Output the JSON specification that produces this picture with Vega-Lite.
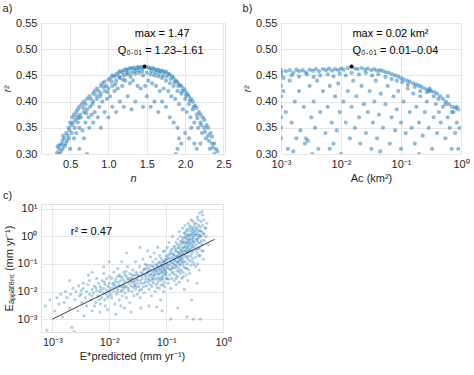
{
"$schema": "https://vega.github.io/schema/vega-lite/v6.json",
"padding": {"left": 2, "top": 2, "right": 5, "bottom": 2},
"config": {
 "font": "Liberation Sans",
 "view": {"stroke": "#dedede", "strokeWidth": 1},
 "axis": {"grid": true, "gridColor": "#e6e6e6", "domain": false, "ticks": false, "labelFontSize": 11, "labelColor": "#262626", "titleFontSize": 11, "titleFontWeight": "normal", "titleColor": "#262626", "labelPadding": 4, "labelFlush": false, "labelOverlap": false, "titlePadding": 3},
 "title": {"fontSize": 11, "fontWeight": "normal", "anchor": "start", "frame": "bounds", "offset": 3, "color": "#262626"}
},
"datasets": {
 "a": [
{"n":0.33,"r":0.302},{"n":0.35,"r":0.31},{"n":0.37,"r":0.318},{"n":0.38,"r":0.305},{"n":0.40,"r":0.325},{"n":0.42,"r":0.33},{"n":0.43,"r":0.315},{"n":0.45,"r":0.34},{"n":0.47,"r":0.335},{"n":0.48,"r":0.35},{"n":0.50,"r":0.36},{"n":0.52,"r":0.355},{"n":0.53,"r":0.37},{"n":0.55,"r":0.375},{"n":0.57,"r":0.365},{"n":0.58,"r":0.38},{"n":0.60,"r":0.385},{"n":0.62,"r":0.39},{"n":0.63,"r":0.375},{"n":0.65,"r":0.395},{"n":0.68,"r":0.40},{"n":0.70,"r":0.395},{"n":0.72,"r":0.405},{"n":0.75,"r":0.41},{"n":0.77,"r":0.405},{"n":0.80,"r":0.415},{"n":0.82,"r":0.42},{"n":0.85,"r":0.425},{"n":0.87,"r":0.42},{"n":0.90,"r":0.43},{"n":0.92,"r":0.435},{"n":0.95,"r":0.438},{"n":0.97,"r":0.43},{"n":1.00,"r":0.442},{"n":1.03,"r":0.445},{"n":1.05,"r":0.45},{"n":1.08,"r":0.448},{"n":1.10,"r":0.452},{"n":1.13,"r":0.455},{"n":1.15,"r":0.458},{"n":1.18,"r":0.456},{"n":1.20,"r":0.46},{"n":1.23,"r":0.462},{"n":1.25,"r":0.46},{"n":1.28,"r":0.464},{"n":1.30,"r":0.463},{"n":1.33,"r":0.465},{"n":1.35,"r":0.462},{"n":1.38,"r":0.466},{"n":1.40,"r":0.465},{"n":1.43,"r":0.466},{"n":1.45,"r":0.464},{"n":1.50,"r":0.466},{"n":1.53,"r":0.465},{"n":1.55,"r":0.463},{"n":1.58,"r":0.464},{"n":1.60,"r":0.462},{"n":1.63,"r":0.46},{"n":1.65,"r":0.461},{"n":1.68,"r":0.458},{"n":1.70,"r":0.459},{"n":1.73,"r":0.456},{"n":1.75,"r":0.457},{"n":1.78,"r":0.453},{"n":1.80,"r":0.452},{"n":1.83,"r":0.448},{"n":1.85,"r":0.445},{"n":1.88,"r":0.44},{"n":1.90,"r":0.437},{"n":1.93,"r":0.432},{"n":1.95,"r":0.43},{"n":1.98,"r":0.425},{"n":2.00,"r":0.42},{"n":2.03,"r":0.415},{"n":2.05,"r":0.41},{"n":2.08,"r":0.405},{"n":2.10,"r":0.40},{"n":2.13,"r":0.393},{"n":2.15,"r":0.388},{"n":2.18,"r":0.38},{"n":2.20,"r":0.375},{"n":2.23,"r":0.37},{"n":2.25,"r":0.365},{"n":2.28,"r":0.355},{"n":2.30,"r":0.35},{"n":2.33,"r":0.34},{"n":2.35,"r":0.333},{"n":2.38,"r":0.32},{"n":2.40,"r":0.31},{"n":2.42,"r":0.305},
{"n":0.36,"r":0.30},{"n":0.40,"r":0.31},{"n":0.44,"r":0.32},{"n":0.48,"r":0.33},{"n":0.52,"r":0.34},{"n":0.56,"r":0.35},{"n":0.60,"r":0.36},{"n":0.64,"r":0.37},{"n":0.68,"r":0.38},{"n":0.72,"r":0.385},{"n":0.76,"r":0.39},{"n":0.80,"r":0.40},{"n":0.85,"r":0.405},{"n":0.90,"r":0.415},{"n":0.95,"r":0.42},{"n":1.00,"r":0.425},{"n":1.05,"r":0.43},{"n":1.10,"r":0.44},{"n":1.15,"r":0.445},{"n":1.20,"r":0.45},{"n":1.25,"r":0.452},{"n":1.30,"r":0.455},{"n":1.35,"r":0.453},{"n":1.40,"r":0.455},{"n":1.45,"r":0.45},{"n":1.50,"r":0.455},{"n":1.55,"r":0.452},{"n":1.60,"r":0.45},{"n":1.65,"r":0.448},{"n":1.70,"r":0.445},{"n":1.75,"r":0.44},{"n":1.80,"r":0.435},{"n":1.85,"r":0.43},{"n":1.90,"r":0.42},{"n":1.95,"r":0.415},{"n":2.00,"r":0.405},{"n":2.05,"r":0.395},{"n":2.10,"r":0.385},{"n":2.15,"r":0.375},{"n":2.20,"r":0.36},{"n":2.25,"r":0.35},{"n":2.30,"r":0.335},{"n":2.35,"r":0.32},{"n":2.38,"r":0.30},
{"n":0.50,"r":0.31},{"n":0.55,"r":0.33},{"n":0.58,"r":0.34},{"n":0.62,"r":0.35},{"n":0.66,"r":0.345},{"n":0.70,"r":0.36},{"n":0.74,"r":0.37},{"n":0.78,"r":0.375},{"n":0.82,"r":0.38},{"n":0.88,"r":0.39},{"n":0.92,"r":0.40},{"n":0.98,"r":0.405},{"n":1.02,"r":0.41},{"n":1.08,"r":0.42},{"n":1.12,"r":0.425},{"n":1.18,"r":0.43},{"n":1.22,"r":0.44},{"n":1.28,"r":0.435},{"n":1.32,"r":0.44},{"n":1.38,"r":0.43},{"n":1.42,"r":0.425},{"n":1.48,"r":0.43},{"n":1.52,"r":0.44},{"n":1.57,"r":0.435},{"n":1.62,"r":0.43},{"n":1.67,"r":0.42},{"n":1.72,"r":0.425},{"n":1.78,"r":0.42},{"n":1.82,"r":0.41},{"n":1.87,"r":0.405},{"n":1.92,"r":0.395},{"n":1.97,"r":0.385},{"n":2.02,"r":0.38},{"n":2.07,"r":0.37},{"n":2.12,"r":0.36},{"n":2.17,"r":0.35},{"n":2.22,"r":0.34},{"n":2.27,"r":0.33},{"n":2.32,"r":0.31},
{"n":0.62,"r":0.31},{"n":0.68,"r":0.33},{"n":0.75,"r":0.35},{"n":0.80,"r":0.36},{"n":0.86,"r":0.37},{"n":0.95,"r":0.38},{"n":1.05,"r":0.39},{"n":1.15,"r":0.40},{"n":1.25,"r":0.41},{"n":1.35,"r":0.40},{"n":1.45,"r":0.39},{"n":1.50,"r":0.41},{"n":1.55,"r":0.39},{"n":1.60,"r":0.40},{"n":1.65,"r":0.38},{"n":1.70,"r":0.40},{"n":1.75,"r":0.39},{"n":1.80,"r":0.37},{"n":1.85,"r":0.36},{"n":1.90,"r":0.35},{"n":1.92,"r":0.33},{"n":1.95,"r":0.32},{"n":2.00,"r":0.34},{"n":2.05,"r":0.33},{"n":2.08,"r":0.35},{"n":2.12,"r":0.32},{"n":2.15,"r":0.31},{"n":2.20,"r":0.32},{"n":0.72,"r":0.30},{"n":1.90,"r":0.31},{"n":1.88,"r":0.30},{"n":0.90,"r":0.35},{"n":1.00,"r":0.37},{"n":1.10,"r":0.38},{"n":1.30,"r":0.385},{"n":1.20,"r":0.39},
{"n":0.34,"r":0.315},{"n":0.39,"r":0.318},{"n":0.41,"r":0.335},{"n":0.46,"r":0.325},{"n":0.49,"r":0.345},{"n":0.54,"r":0.36},{"n":0.59,"r":0.372},{"n":0.61,"r":0.368},{"n":0.67,"r":0.388},{"n":0.71,"r":0.378},{"n":0.79,"r":0.395},{"n":0.84,"r":0.412},{"n":0.89,"r":0.41},{"n":0.94,"r":0.428},{"n":0.99,"r":0.418},{"n":1.04,"r":0.438},{"n":1.09,"r":0.433},{"n":1.14,"r":0.447},{"n":1.19,"r":0.442},{"n":1.24,"r":0.455},{"n":1.29,"r":0.447},{"n":1.34,"r":0.458},{"n":1.39,"r":0.46},{"n":1.44,"r":0.458},{"n":1.56,"r":0.458},{"n":1.61,"r":0.456},{"n":1.66,"r":0.454},{"n":1.71,"r":0.45},{"n":1.76,"r":0.448},{"n":1.81,"r":0.443},{"n":1.86,"r":0.437},{"n":1.91,"r":0.43},{"n":1.96,"r":0.42},{"n":2.01,"r":0.412},{"n":2.06,"r":0.402},{"n":2.11,"r":0.39},{"n":2.16,"r":0.368},{"n":2.21,"r":0.355},{"n":2.26,"r":0.342},{"n":2.31,"r":0.325},{"n":2.36,"r":0.312}
 ],
 "amax": [{"n":1.47,"r":0.467}],
 "atext": [{"n":1.70,"r":0.529,"t":"max = 1.47"},{"n":1.68,"r":0.497,"t":"Q₀.₀₁ = 1.23–1.61"}],
 "b": [
{"A":0.001,"r":0.46},{"A":0.001,"r":0.455},{"A":0.001,"r":0.45},{"A":0.0012,"r":0.458},{"A":0.0014,"r":0.46},{"A":0.0016,"r":0.455},{"A":0.0018,"r":0.461},{"A":0.002,"r":0.458},{"A":0.0023,"r":0.46},{"A":0.0026,"r":0.456},{"A":0.003,"r":0.461},{"A":0.0034,"r":0.459},{"A":0.0038,"r":0.462},{"A":0.0043,"r":0.458},{"A":0.005,"r":0.462},{"A":0.0056,"r":0.46},{"A":0.0063,"r":0.463},{"A":0.0071,"r":0.459},{"A":0.008,"r":0.462},{"A":0.009,"r":0.46},{"A":0.01,"r":0.463},{"A":0.011,"r":0.461},{"A":0.013,"r":0.464},{"A":0.017,"r":0.463},{"A":0.019,"r":0.462},{"A":0.022,"r":0.464},{"A":0.025,"r":0.461},{"A":0.028,"r":0.463},{"A":0.032,"r":0.46},{"A":0.036,"r":0.462},{"A":0.04,"r":0.459},{"A":0.045,"r":0.46},{"A":0.05,"r":0.458},{"A":0.056,"r":0.456},{"A":0.063,"r":0.455},{"A":0.071,"r":0.452},{"A":0.08,"r":0.45},{"A":0.09,"r":0.448},{"A":0.1,"r":0.445},{"A":0.11,"r":0.443},{"A":0.125,"r":0.44},{"A":0.14,"r":0.438},{"A":0.16,"r":0.435},{"A":0.18,"r":0.433},{"A":0.2,"r":0.43},{"A":0.22,"r":0.428},{"A":0.25,"r":0.425},{"A":0.28,"r":0.422},{"A":0.32,"r":0.42},{"A":0.36,"r":0.418},{"A":0.4,"r":0.415},{"A":0.45,"r":0.41},{"A":0.5,"r":0.405},{"A":0.56,"r":0.40},{"A":0.63,"r":0.395},{"A":0.71,"r":0.39},{"A":0.8,"r":0.388},{"A":0.9,"r":0.385},
{"A":0.0011,"r":0.445},{"A":0.0015,"r":0.45},{"A":0.002,"r":0.448},{"A":0.0027,"r":0.452},{"A":0.0035,"r":0.447},{"A":0.0045,"r":0.45},{"A":0.006,"r":0.452},{"A":0.0075,"r":0.448},{"A":0.0095,"r":0.453},{"A":0.012,"r":0.45},{"A":0.015,"r":0.455},{"A":0.02,"r":0.452},{"A":0.026,"r":0.455},{"A":0.033,"r":0.45},{"A":0.042,"r":0.452},{"A":0.055,"r":0.447},{"A":0.07,"r":0.443},{"A":0.085,"r":0.44},{"A":0.105,"r":0.437},{"A":0.13,"r":0.432},{"A":0.17,"r":0.428},{"A":0.21,"r":0.42},{"A":0.27,"r":0.418},{"A":0.3,"r":0.425},{"A":0.35,"r":0.41},{"A":0.42,"r":0.405},{"A":0.55,"r":0.395},{"A":0.7,"r":0.38},{"A":0.85,"r":0.39},{"A":0.6,"r":0.41},
{"A":0.001,"r":0.43},{"A":0.001,"r":0.41},{"A":0.001,"r":0.39},{"A":0.001,"r":0.37},{"A":0.001,"r":0.35},{"A":0.001,"r":0.33},{"A":0.0011,"r":0.42},{"A":0.0012,"r":0.38},{"A":0.0013,"r":0.31},{"A":0.0014,"r":0.44},{"A":0.0015,"r":0.36},{"A":0.0017,"r":0.40},{"A":0.0018,"r":0.33},{"A":0.002,"r":0.42},{"A":0.0021,"r":0.345},{"A":0.0024,"r":0.39},{"A":0.0025,"r":0.32},{"A":0.0026,"r":0.33},{"A":0.0028,"r":0.325},{"A":0.003,"r":0.43},{"A":0.0032,"r":0.37},{"A":0.0035,"r":0.40},{"A":0.0037,"r":0.35},{"A":0.004,"r":0.44},{"A":0.0042,"r":0.31},{"A":0.0045,"r":0.38},{"A":0.005,"r":0.42},{"A":0.0055,"r":0.34},{"A":0.006,"r":0.39},{"A":0.0065,"r":0.43},{"A":0.007,"r":0.36},{"A":0.0075,"r":0.32},{"A":0.008,"r":0.41},{"A":0.0085,"r":0.345},{"A":0.009,"r":0.435},{"A":0.0095,"r":0.38},{"A":0.01,"r":0.30},{"A":0.011,"r":0.40},{"A":0.012,"r":0.36},{"A":0.013,"r":0.42},{"A":0.014,"r":0.33},{"A":0.015,"r":0.39},{"A":0.016,"r":0.44},{"A":0.017,"r":0.35},{"A":0.018,"r":0.41},{"A":0.02,"r":0.37},{"A":0.021,"r":0.32},{"A":0.022,"r":0.43},{"A":0.024,"r":0.395},{"A":0.026,"r":0.34},{"A":0.028,"r":0.38},{"A":0.03,"r":0.42},{"A":0.032,"r":0.31},{"A":0.034,"r":0.36},{"A":0.036,"r":0.40},{"A":0.038,"r":0.44},{"A":0.04,"r":0.33},{"A":0.043,"r":0.375},{"A":0.046,"r":0.415},{"A":0.05,"r":0.35},{"A":0.055,"r":0.395},{"A":0.06,"r":0.43},{"A":0.065,"r":0.32},{"A":0.07,"r":0.37},{"A":0.075,"r":0.41},{"A":0.08,"r":0.345},{"A":0.085,"r":0.385},{"A":0.09,"r":0.42},{"A":0.1,"r":0.31},{"A":0.1,"r":0.36},{"A":0.11,"r":0.40},{"A":0.12,"r":0.34},{"A":0.13,"r":0.425},{"A":0.14,"r":0.38},{"A":0.15,"r":0.35},{"A":0.16,"r":0.415},{"A":0.17,"r":0.32},{"A":0.18,"r":0.39},{"A":0.2,"r":0.36},{"A":0.21,"r":0.41},{"A":0.23,"r":0.335},{"A":0.25,"r":0.38},{"A":0.27,"r":0.40},{"A":0.29,"r":0.35},{"A":0.3,"r":0.42},{"A":0.33,"r":0.31},{"A":0.35,"r":0.37},{"A":0.38,"r":0.395},{"A":0.4,"r":0.34},{"A":0.43,"r":0.38},{"A":0.46,"r":0.36},{"A":0.5,"r":0.39},{"A":0.55,"r":0.33},{"A":0.6,"r":0.37},{"A":0.65,"r":0.35},{"A":0.7,"r":0.31},{"A":0.75,"r":0.38},{"A":0.8,"r":0.34},{"A":0.85,"r":0.36},{"A":0.9,"r":0.31},{"A":0.95,"r":0.35},{"A":0.0016,"r":0.305},{"A":0.0033,"r":0.30},{"A":0.0065,"r":0.31},{"A":0.045,"r":0.305},{"A":0.2,"r":0.30}
 ],
 "bmax": [{"A":0.015,"r":0.467}],
 "btext": [{"A":0.0155,"r":0.529,"t":"max = 0.02 km²"},{"A":0.0155,"r":0.497,"t":"Q₀.₀₁ = 0.01–0.04"}],
 "c": [
{"p":8e-4,"e":4e-4},{"p":7.5e-4,"e":3e-3},{"p":9e-4,"e":5e-3},{"p":1.1e-3,"e":2e-3},{"p":1.2e-3,"e":6e-3},{"p":1.3e-3,"e":3.5e-3},{"p":1.4e-3,"e":8e-3},{"p":1.5e-3,"e":1.2e-3},{"p":1.6e-3,"e":4e-3},{"p":1.7e-3,"e":1e-2},{"p":1.8e-3,"e":6e-3},{"p":2e-3,"e":2.5e-2},{"p":2e-3,"e":2.5e-3},{"p":2.1e-3,"e":8e-3},{"p":2.2e-3,"e":5e-4},{"p":2.4e-3,"e":3.5e-4},{"p":2.3e-3,"e":1.3e-2},{"p":2.5e-3,"e":5e-3},{"p":2.6e-3,"e":1e-2},{"p":2.8e-3,"e":2e-3},{"p":2.9e-3,"e":1.6e-2},{"p":3e-3,"e":7e-3},{"p":3.2e-3,"e":1.1e-2},{"p":3.3e-3,"e":4e-3},{"p":3.5e-3,"e":2e-2},{"p":3.6e-3,"e":1.3e-3},
{"p":3.2e-3,"e":8e-3},{"p":3.5e-3,"e":1.3e-2},{"p":3.8e-3,"e":6e-3},{"p":4e-3,"e":1e-2},{"p":4e-3,"e":3e-3},{"p":4.2e-3,"e":1.8e-2},{"p":4.5e-3,"e":8e-3},{"p":4.5e-3,"e":2.5e-2},{"p":4.8e-3,"e":5e-3},{"p":5e-3,"e":1.2e-2},{"p":5e-3,"e":2e-3},{"p":5.3e-3,"e":9e-3},{"p":5.5e-3,"e":1.6e-2},{"p":5.8e-3,"e":4e-3},{"p":6e-3,"e":1.1e-2},{"p":6e-3,"e":3e-2},{"p":6.3e-3,"e":7e-3},{"p":6.5e-3,"e":2e-2},{"p":6.8e-3,"e":1e-2},{"p":7e-3,"e":3.5e-3},{"p":7e-3,"e":1.5e-2},{"p":7.3e-3,"e":6e-3},{"p":7.5e-3,"e":2.5e-2},{"p":7.8e-3,"e":9e-3},{"p":8e-3,"e":1.3e-2},{"p":8e-3,"e":4.5e-2},{"p":8.3e-3,"e":5e-3},{"p":8.5e-3,"e":1.8e-2},{"p":8.8e-3,"e":8e-3},{"p":9e-3,"e":3e-2},{"p":9e-3,"e":1.1e-2},{"p":9.3e-3,"e":2.2e-3},{"p":9.5e-3,"e":1.5e-2},{"p":9.8e-3,"e":7e-3},{"p":1e-2,"e":2e-2},{"p":1e-2,"e":1e-2},{"p":4.3e-3,"e":4e-2},{"p":5.5e-3,"e":3e-3},{"p":6.8e-3,"e":1.8e-3},{"p":8.5e-3,"e":3e-3},
{"p":1.05e-2,"e":1.3e-2},{"p":1.1e-2,"e":3e-2},{"p":1.1e-2,"e":6e-3},{"p":1.15e-2,"e":2e-2},{"p":1.2e-2,"e":1e-2},{"p":1.2e-2,"e":5e-2},{"p":1.25e-2,"e":3.5e-3},{"p":1.3e-2,"e":1.6e-2},{"p":1.3e-2,"e":2.8e-2},{"p":1.35e-2,"e":8e-3},{"p":1.4e-2,"e":1.2e-2},{"p":1.4e-2,"e":7e-2},{"p":1.45e-2,"e":2.2e-2},{"p":1.5e-2,"e":4e-2},{"p":1.5e-2,"e":5e-3},{"p":1.55e-2,"e":1.5e-2},{"p":1.6e-2,"e":2.5e-2},{"p":1.6e-2,"e":1e-2},{"p":1.65e-2,"e":1.2e-1},{"p":1.7e-2,"e":3.2e-2},{"p":1.7e-2,"e":7e-3},{"p":1.75e-2,"e":1.8e-2},{"p":1.8e-2,"e":5e-2},{"p":1.8e-2,"e":1.3e-2},{"p":1.85e-2,"e":2.5e-3},{"p":1.9e-2,"e":2.2e-2},{"p":1.9e-2,"e":9e-3},{"p":2e-2,"e":3.5e-2},{"p":2e-2,"e":1.5e-2},{"p":2e-2,"e":6e-3},{"p":2.1e-2,"e":2.8e-2},{"p":2.1e-2,"e":8e-2},{"p":2.2e-2,"e":1.1e-2},{"p":2.2e-2,"e":2e-2},{"p":2.3e-2,"e":4.5e-2},{"p":2.3e-2,"e":4e-3},{"p":2.4e-2,"e":1.6e-2},{"p":2.4e-2,"e":3e-2},{"p":2.5e-2,"e":2.2e-2},{"p":2.5e-2,"e":1e-2},{"p":2.6e-2,"e":6e-2},{"p":2.6e-2,"e":1.4e-2},{"p":2.7e-2,"e":3.8e-2},{"p":2.7e-2,"e":7e-3},{"p":2.8e-2,"e":2.5e-2},{"p":2.8e-2,"e":1.8e-2},{"p":2.9e-2,"e":1.2e-1},{"p":2.9e-2,"e":1.2e-2},{"p":3e-2,"e":3e-2},{"p":3e-2,"e":5e-2},{"p":3.1e-2,"e":2e-2},{"p":3.1e-2,"e":8e-3},{"p":1.3e-2,"e":1.5e-3},{"p":2.4e-2,"e":1.8e-3},{"p":1.6e-2,"e":3e-3},
{"p":3.2e-2,"e":4e-2},{"p":3.3e-2,"e":1.5e-2},{"p":3.4e-2,"e":8e-2},{"p":3.5e-2,"e":2.5e-2},{"p":3.5e-2,"e":6e-3},{"p":3.6e-2,"e":5e-2},{"p":3.7e-2,"e":1.2e-2},{"p":3.8e-2,"e":3e-2},{"p":3.9e-2,"e":1.5e-1},{"p":4e-2,"e":2e-2},{"p":4e-2,"e":6e-2},{"p":4.1e-2,"e":9e-3},{"p":4.2e-2,"e":4e-2},{"p":4.3e-2,"e":1e-1},{"p":4.4e-2,"e":2.8e-2},{"p":4.5e-2,"e":1.6e-2},{"p":4.5e-2,"e":7e-2},{"p":4.6e-2,"e":4.5e-2},{"p":4.7e-2,"e":3e-1},{"p":4.8e-2,"e":2.2e-2},{"p":4.9e-2,"e":5.5e-2},{"p":5e-2,"e":1.2e-2},{"p":5e-2,"e":3.5e-2},{"p":5.1e-2,"e":9e-2},{"p":5.2e-2,"e":2.5e-2},{"p":5.3e-2,"e":1.8e-1},{"p":5.4e-2,"e":6e-2},{"p":5.5e-2,"e":4e-2},{"p":5.5e-2,"e":7e-3},{"p":5.6e-2,"e":1.5e-2},{"p":5.7e-2,"e":3e-2},{"p":5.8e-2,"e":1.2e-1},{"p":5.9e-2,"e":5e-2},{"p":6e-2,"e":2e-2},{"p":6e-2,"e":8e-2},{"p":6.1e-2,"e":3.8e-2},{"p":6.2e-2,"e":2.5e-1},{"p":6.3e-2,"e":6.5e-2},{"p":6.4e-2,"e":1e-2},{"p":6.5e-2,"e":2.8e-2},{"p":6.6e-2,"e":1.5e-1},{"p":6.7e-2,"e":4.5e-2},{"p":6.8e-2,"e":1.8e-2},{"p":6.9e-2,"e":9e-2},{"p":7e-2,"e":3.2e-2},{"p":7e-2,"e":5.5e-2},{"p":7.1e-2,"e":4e-1},{"p":7.2e-2,"e":2.2e-2},{"p":7.3e-2,"e":1.1e-1},{"p":7.4e-2,"e":7e-2},{"p":7.5e-2,"e":4e-2},{"p":7.6e-2,"e":1.3e-2},{"p":7.7e-2,"e":2e-1},{"p":7.8e-2,"e":6e-2},{"p":7.9e-2,"e":3e-2},{"p":8e-2,"e":1e-1},{"p":8e-2,"e":5e-3},{"p":8.1e-2,"e":4.8e-2},{"p":8.2e-2,"e":1.6e-1},{"p":8.3e-2,"e":2.5e-2},{"p":8.4e-2,"e":8e-2},{"p":8.5e-2,"e":3.5e-2},{"p":8.6e-2,"e":1.3e-1},{"p":8.7e-2,"e":5.5e-2},{"p":8.8e-2,"e":1.8e-2},{"p":8.9e-2,"e":2.8e-1},{"p":9e-2,"e":7e-2},{"p":9e-2,"e":4e-2},{"p":9.1e-2,"e":1e-2},{"p":9.2e-2,"e":1.2e-1},{"p":9.3e-2,"e":2.2e-2},{"p":9.4e-2,"e":6e-2},{"p":9.5e-2,"e":3e-1},{"p":9.6e-2,"e":9e-2},{"p":9.7e-2,"e":4.5e-2},{"p":9.8e-2,"e":1.5e-1},{"p":9.9e-2,"e":3e-2},{"p":3.6e-2,"e":2.5e-3},{"p":6.8e-2,"e":2.8e-3},{"p":5e-2,"e":3e-3},{"p":8.5e-2,"e":2e-3},
{"p":1e-1,"e":2e-1},{"p":1e-1,"e":5e-2},{"p":1.02e-1,"e":1e-1},{"p":1.05e-1,"e":3e-2},{"p":1.05e-1,"e":4e-1},{"p":1.08e-1,"e":7e-2},{"p":1.1e-1,"e":1.5e-1},{"p":1.1e-1,"e":2e-2},{"p":1.12e-1,"e":6e-1},{"p":1.15e-1,"e":9e-2},{"p":1.15e-1,"e":4e-2},{"p":1.18e-1,"e":2.5e-1},{"p":1.2e-1,"e":1.2e-1},{"p":1.2e-1,"e":1.3e-2},{"p":1.22e-1,"e":6e-2},{"p":1.25e-1,"e":3.5e-1},{"p":1.25e-1,"e":3e-2},{"p":1.28e-1,"e":1.8e-1},{"p":1.3e-1,"e":8e-2},{"p":1.3e-1,"e":1},{"p":1.32e-1,"e":5e-2},{"p":1.35e-1,"e":2.2e-1},{"p":1.35e-1,"e":1.1e-1},{"p":1.38e-1,"e":2.5e-2},{"p":1.4e-1,"e":4.5e-1},{"p":1.4e-1,"e":7e-2},{"p":1.42e-1,"e":1.4e-1},{"p":1.45e-1,"e":3e-1},{"p":1.45e-1,"e":4e-2},{"p":1.48e-1,"e":9e-2},{"p":1.5e-1,"e":1.8e-2},{"p":1.5e-1,"e":6e-1},{"p":1.52e-1,"e":1.7e-1},{"p":1.55e-1,"e":5.5e-2},{"p":1.55e-1,"e":2.8e-1},{"p":1.58e-1,"e":1.1e-1},{"p":1.6e-1,"e":3.5e-2},{"p":1.6e-1,"e":8e-1},{"p":1.62e-1,"e":2e-1},{"p":1.65e-1,"e":7e-2},{"p":1.65e-1,"e":4e-1},{"p":1.68e-1,"e":1.3e-1},{"p":1.7e-1,"e":2.2e-2},{"p":1.7e-1,"e":1.5},{"p":1.72e-1,"e":2.5e-1},{"p":1.75e-1,"e":9e-2},{"p":1.75e-1,"e":5e-1},{"p":1.78e-1,"e":4.5e-2},{"p":1.8e-1,"e":1.6e-1},{"p":1.8e-1,"e":1},{"p":1.82e-1,"e":3.2e-1},{"p":1.85e-1,"e":6e-2},{"p":1.85e-1,"e":1.2e-1},{"p":1.88e-1,"e":7e-1},{"p":1.9e-1,"e":2.2e-1},{"p":1.9e-1,"e":3e-2},{"p":1.92e-1,"e":4e-1},{"p":1.95e-1,"e":1e-1},{"p":1.95e-1,"e":2},{"p":1.98e-1,"e":1.5e-1},{"p":2e-1,"e":6e-1},{"p":2e-1,"e":5e-2},{"p":2.02e-1,"e":3e-1},{"p":2.05e-1,"e":1.3},{"p":2.05e-1,"e":8e-2},{"p":2.08e-1,"e":2e-1},{"p":2.1e-1,"e":9e-1},{"p":2.1e-1,"e":1.2e-2},{"p":2.12e-1,"e":4.5e-1},{"p":2.15e-1,"e":1.2e-1},{"p":2.15e-1,"e":2.5},{"p":2.18e-1,"e":3e-1},{"p":2.2e-1,"e":7e-2},{"p":2.2e-1,"e":1.1},{"p":2.22e-1,"e":5.5e-1},{"p":2.25e-1,"e":1.8e-1},{"p":2.25e-1,"e":4e-2},{"p":2.28e-1,"e":8e-1},{"p":2.3e-1,"e":3.5e-1},{"p":2.3e-1,"e":1.8},{"p":2.32e-1,"e":1e-1},{"p":2.35e-1,"e":6e-1},{"p":2.35e-1,"e":2.5e-1},{"p":2.38e-1,"e":1.2},{"p":2.4e-1,"e":4e-1},{"p":2.4e-1,"e":2.5e-2},{"p":2.42e-1,"e":1.5e-1},{"p":2.45e-1,"e":3},{"p":2.45e-1,"e":7e-1},{"p":2.48e-1,"e":2.8e-1},{"p":2.5e-1,"e":1},{"p":2.5e-1,"e":6e-2},{"p":2.55e-1,"e":5e-1},{"p":2.55e-1,"e":2},{"p":2.6e-1,"e":1.3e-1},{"p":2.6e-1,"e":8e-1},{"p":2.65e-1,"e":3.5e-1},{"p":2.65e-1,"e":1.5},{"p":2.7e-1,"e":2e-1},{"p":2.7e-1,"e":6e-1},{"p":2.75e-1,"e":4},{"p":2.75e-1,"e":9e-2},{"p":2.8e-1,"e":1.1},{"p":2.8e-1,"e":4e-1},{"p":2.85e-1,"e":2.5e-1},{"p":2.85e-1,"e":2.2},{"p":2.9e-1,"e":7e-1},{"p":2.9e-1,"e":1.6e-1},{"p":2.95e-1,"e":1.3},{"p":2.95e-1,"e":5e-1},{"p":3e-1,"e":3e-1},{"p":3e-1,"e":9e-1},{"p":3.05e-1,"e":1.8},{"p":3.1e-1,"e":1e-1},{"p":3.1e-1,"e":6e-1},{"p":3.15e-1,"e":2.8},{"p":1.2e-1,"e":1e-3},{"p":1.6e-1,"e":2.5e-3},{"p":2.3e-1,"e":1.2e-3},{"p":2.8e-1,"e":5e-3},{"p":3e-1,"e":1e-3},
{"p":3.2e-1,"e":4e-1},{"p":3.25e-1,"e":1.5},{"p":3.3e-1,"e":8e-1},{"p":3.3e-1,"e":1.8e-1},{"p":3.35e-1,"e":3},{"p":3.4e-1,"e":1.1},{"p":3.4e-1,"e":5e-1},{"p":3.45e-1,"e":2},{"p":3.5e-1,"e":7e-1},{"p":3.5e-1,"e":2.5e-1},{"p":3.55e-1,"e":5},{"p":3.6e-1,"e":1.3},{"p":3.6e-1,"e":1e-1},{"p":3.65e-1,"e":6e-1},{"p":3.7e-1,"e":2.5},{"p":3.7e-1,"e":3.5e-1},{"p":3.75e-1,"e":9e-1},{"p":3.8e-1,"e":1.6},{"p":3.8e-1,"e":6e-2},{"p":3.85e-1,"e":4e-1},{"p":3.9e-1,"e":7},{"p":3.9e-1,"e":1.1},{"p":3.95e-1,"e":2e-1},{"p":4e-1,"e":2.2},{"p":4e-1,"e":6e-1},{"p":4.1e-1,"e":3.5},{"p":4.1e-1,"e":1},{"p":4.2e-1,"e":3e-1},{"p":4.2e-1,"e":1.5},{"p":4.3e-1,"e":5e-1},{"p":4.3e-1,"e":8},{"p":4.4e-1,"e":2.5},{"p":4.5e-1,"e":1.2},{"p":4.5e-1,"e":1.5e-1},{"p":4.6e-1,"e":4},{"p":4.7e-1,"e":7e-1},{"p":4.8e-1,"e":2},{"p":5e-1,"e":1},{"p":5.2e-1,"e":3},{"p":5.5e-1,"e":5e-1},{"p":4e-1,"e":1e-3},{"p":3.5e-1,"e":2e-2},
{"p":1.2e-2,"e":1.8e-2},{"p":1.4e-2,"e":3.5e-2},{"p":1.7e-2,"e":1.5e-2},{"p":1.9e-2,"e":4e-2},{"p":2.2e-2,"e":3e-2},{"p":2.5e-2,"e":4e-2},{"p":2.7e-2,"e":2.2e-2},{"p":3e-2,"e":1.5e-2},{"p":3.3e-2,"e":3.5e-2},{"p":3.6e-2,"e":2e-2},{"p":3.9e-2,"e":4.5e-2},{"p":4.2e-2,"e":6.5e-2},{"p":4.4e-2,"e":3.5e-2},{"p":4.7e-2,"e":5e-2},{"p":5e-2,"e":7e-2},{"p":5.3e-2,"e":4.2e-2},{"p":5.6e-2,"e":8.5e-2},{"p":5.9e-2,"e":3e-2},{"p":6.2e-2,"e":5.5e-2},{"p":6.5e-2,"e":1e-1},{"p":6.8e-2,"e":6e-2},{"p":7.1e-2,"e":8e-2},{"p":7.4e-2,"e":4.5e-2},{"p":7.7e-2,"e":1.2e-1},{"p":8e-2,"e":6.5e-2},{"p":8.3e-2,"e":9e-2},{"p":8.6e-2,"e":5e-2},{"p":8.9e-2,"e":1.1e-1},{"p":9.2e-2,"e":7.5e-2},{"p":9.5e-2,"e":1.3e-1},{"p":9.8e-2,"e":6e-2},{"p":1.01e-1,"e":1.4e-1},{"p":1.04e-1,"e":8e-2},{"p":1.07e-1,"e":1.8e-1},{"p":1.1e-1,"e":1e-1},{"p":1.13e-1,"e":2.2e-1},{"p":1.16e-1,"e":6.5e-2},{"p":1.19e-1,"e":1.6e-1},{"p":1.22e-1,"e":3e-1},{"p":1.25e-1,"e":1.1e-1},{"p":1.28e-1,"e":7e-2},{"p":1.31e-1,"e":2.4e-1},{"p":1.34e-1,"e":1.5e-1},{"p":1.37e-1,"e":4e-1},{"p":1.4e-1,"e":9.5e-2},{"p":1.43e-1,"e":2e-1},{"p":1.46e-1,"e":1.3e-1},{"p":1.49e-1,"e":3.5e-1},{"p":1.52e-1,"e":8e-2},{"p":1.55e-1,"e":1.9e-1},{"p":1.58e-1,"e":5e-1},{"p":1.61e-1,"e":1.2e-1},{"p":1.64e-1,"e":2.6e-1},{"p":1.67e-1,"e":1.6e-1},{"p":1.7e-1,"e":3.8e-1},{"p":1.73e-1,"e":1e-1},{"p":1.76e-1,"e":2.2e-1},{"p":1.79e-1,"e":6.5e-1},{"p":1.82e-1,"e":1.4e-1},{"p":1.85e-1,"e":3e-1},{"p":1.88e-1,"e":1.8e-1},{"p":1.91e-1,"e":5.5e-1},{"p":1.94e-1,"e":2.6e-1},{"p":1.97e-1,"e":8.5e-1},{"p":2e-1,"e":1.2e-1},{"p":2.04e-1,"e":3.8e-1},{"p":2.08e-1,"e":6.5e-1},{"p":2.12e-1,"e":2.3e-1},{"p":2.16e-1,"e":1.4},{"p":2.2e-1,"e":4.2e-1},{"p":2.24e-1,"e":9e-1},{"p":2.28e-1,"e":2.8e-1},{"p":2.32e-1,"e":6e-1},{"p":2.36e-1,"e":1.6},{"p":2.4e-1,"e":1.9e-1},{"p":2.44e-1,"e":4.5e-1},{"p":2.48e-1,"e":1.1},{"p":2.52e-1,"e":3.2e-1},{"p":2.56e-1,"e":7.5e-1},{"p":2.6e-1,"e":2.4},{"p":2.65e-1,"e":5.5e-1},{"p":2.7e-1,"e":1.2},{"p":2.75e-1,"e":3e-1},{"p":2.8e-1,"e":1.8},{"p":2.85e-1,"e":8.5e-1},{"p":2.9e-1,"e":4.5e-1},{"p":2.95e-1,"e":3.5},{"p":3e-1,"e":1.5},{"p":3.05e-1,"e":6.5e-1},{"p":3.1e-1,"e":1.1},{"p":3.2e-1,"e":2.2},{"p":3.3e-1,"e":1.2},{"p":3.4e-1,"e":3.2e-1},{"p":3.5e-1,"e":1.7},{"p":3.6e-1,"e":8e-1},{"p":3.7e-1,"e":4},{"p":3.8e-1,"e":1.1},{"p":4e-1,"e":1.6},{"p":4.2e-1,"e":7e-1},{"p":4.4e-1,"e":6},{"p":4.6e-1,"e":1.3},
{"p":5e-3,"e":7e-3},{"p":5.8e-3,"e":1.4e-2},{"p":6.6e-3,"e":5e-3},{"p":7.2e-3,"e":1.2e-2},{"p":8.2e-3,"e":2.2e-2},{"p":9.2e-3,"e":6e-3},{"p":1.02e-2,"e":3.5e-2},{"p":1.08e-2,"e":8e-3},{"p":1.18e-2,"e":1.4e-2},{"p":1.28e-2,"e":2.2e-2},{"p":1.38e-2,"e":1e-2},{"p":1.48e-2,"e":1.7e-2},{"p":1.58e-2,"e":3.5e-2},{"p":1.68e-2,"e":1.1e-2},{"p":1.78e-2,"e":2.6e-2},{"p":1.88e-2,"e":1.5e-2},{"p":1.98e-2,"e":5.5e-2},{"p":2.15e-2,"e":1.3e-2},{"p":2.35e-2,"e":2.4e-2},{"p":2.55e-2,"e":3e-2},{"p":2.75e-2,"e":1.6e-2},{"p":2.95e-2,"e":4e-2},{"p":3.15e-2,"e":2.6e-2},{"p":3.4e-2,"e":1.1e-2},{"p":3.7e-2,"e":3.8e-2},{"p":4e-2,"e":1.5e-2},{"p":4.3e-2,"e":2.2e-2},{"p":4.6e-2,"e":9e-2},{"p":4.9e-2,"e":2.8e-2},{"p":5.2e-2,"e":1.8e-2},{"p":5.8e-2,"e":2.4e-2},{"p":6.3e-2,"e":4e-2},{"p":6.9e-2,"e":1.4e-2},{"p":7.5e-2,"e":2.7e-2},{"p":8.1e-2,"e":1.7e-2},{"p":8.7e-2,"e":3e-2},{"p":9.3e-2,"e":1.5e-2},{"p":9.9e-2,"e":4e-2},{"p":1.1e-1,"e":2.8e-2},{"p":1.3e-1,"e":4.5e-2},{"p":1.5e-1,"e":3e-2},{"p":1.7e-1,"e":5.5e-2},{"p":2e-1,"e":3.5e-2},{"p":2.3e-1,"e":7e-2},{"p":2.6e-1,"e":4.5e-2},{"p":2.9e-1,"e":1.2e-1},{"p":3.3e-1,"e":8e-2},{"p":3.8e-1,"e":2e-1},{"p":4.5e-1,"e":3e-1},{"p":5e-1,"e":2},
{"p":2e-2,"e":2.5e-1},{"p":3.5e-2,"e":4e-1},{"p":1e-2,"e":1.2e-1},{"p":5e-3,"e":5e-2},{"p":8e-3,"e":8e-2}
 ],
 "cline": [{"p":1e-3,"e":1e-3},{"p":0.71,"e":0.78}],
 "ctext": [{"p":2.1e-3,"e":1.45,"t":"r² = 0.47"}]
},
"vconcat": [
 {"hconcat": [
  {"width": 184, "height": 131, "title": "a)",
   "layer": [
    {"data": {"name": "a"}, "mark": {"type": "circle", "size": 18, "opacity": 0.5, "color": "#1f77b4", "clip": true},
     "encoding": {
      "x": {"field": "n", "type": "quantitative", "scale": {"domain": [0.12, 2.52], "nice": false, "zero": false}, "axis": {"tickCount": 5, "format": ".1f", "title": "n", "titleFontStyle": "italic", "labelOverlap": false}},
      "y": {"field": "r", "type": "quantitative", "scale": {"domain": [0.3, 0.55], "nice": false, "zero": false}, "axis": {"tickCount": 6, "format": ".2f", "title": "r²", "titleFontStyle": "italic", "titleFontSize": 10, "labelOverlap": false}}
     }},
    {"data": {"name": "amax"}, "mark": {"type": "circle", "size": 16, "opacity": 1, "color": "black"},
     "encoding": {"x": {"field": "n", "type": "quantitative"}, "y": {"field": "r", "type": "quantitative"}}},
    {"data": {"name": "atext"}, "mark": {"type": "text", "fontSize": 11, "align": "center", "baseline": "middle", "color": "black"},
     "encoding": {"x": {"field": "n", "type": "quantitative"}, "y": {"field": "r", "type": "quantitative"}, "text": {"field": "t"}}}
   ]},
  {"width": 180, "height": 131, "title": "b)",
   "layer": [
    {"data": {"name": "b"}, "mark": {"type": "circle", "size": 18, "opacity": 0.5, "color": "#1f77b4", "clip": true},
     "encoding": {
      "x": {"field": "A", "type": "quantitative", "scale": {"type": "log", "domain": [0.001, 1], "nice": false}, "axis": {"values": [0.001, 0.01, 0.1, 1], "labelExpr": "datum.value < 0.005 ? '10⁻³' : datum.value < 0.05 ? '10⁻²' : datum.value < 0.5 ? '10⁻¹' : '10⁰'", "title": "Ac (km²)", "labelOverlap": false}},
      "y": {"field": "r", "type": "quantitative", "scale": {"domain": [0.3, 0.55], "nice": false, "zero": false}, "axis": {"tickCount": 6, "format": ".2f", "title": "r²", "titleFontStyle": "italic", "titleFontSize": 10, "labelOverlap": false}}
     }},
    {"data": {"name": "bmax"}, "mark": {"type": "circle", "size": 16, "opacity": 1, "color": "black"},
     "encoding": {"x": {"field": "A", "type": "quantitative"}, "y": {"field": "r", "type": "quantitative"}}},
    {"data": {"name": "btext"}, "mark": {"type": "text", "fontSize": 11, "align": "left", "baseline": "middle", "color": "black"},
     "encoding": {"x": {"field": "A", "type": "quantitative"}, "y": {"field": "r", "type": "quantitative"}, "text": {"field": "t"}}}
   ]}
 ], "spacing": 10},
 {"width": 182, "height": 128, "title": {"text": "c)", "offset": 2},
  "layer": [
   {"data": {"name": "c"}, "mark": {"type": "circle", "size": 10, "opacity": 0.35, "color": "#1f77b4", "clip": true},
    "encoding": {
     "x": {"field": "p", "type": "quantitative", "scale": {"type": "log", "domain": [0.00063, 1], "nice": false}, "axis": {"values": [0.001, 0.01, 0.1, 1], "labelExpr": "datum.value < 0.005 ? '10⁻³' : datum.value < 0.05 ? '10⁻²' : datum.value < 0.5 ? '10⁻¹' : '10⁰'", "title": "E*predicted (mm yr⁻¹)", "labelOverlap": false}},
     "y": {"field": "e", "type": "quantitative", "scale": {"type": "log", "domain": [0.00034, 15], "nice": false}, "axis": {"values": [0.001, 0.01, 0.1, 1, 10], "labelExpr": "datum.value < 0.005 ? '10⁻³' : datum.value < 0.05 ? '10⁻²' : datum.value < 0.5 ? '10⁻¹' : datum.value < 5 ? '10⁰' : '10¹'", "title": "Eₐₚₚₐᵣₑₙₜ (mm yr⁻¹)", "labelOverlap": false}}
    }},
   {"data": {"name": "cline"}, "mark": {"type": "line", "color": "#222222", "strokeWidth": 0.9},
    "encoding": {"x": {"field": "p", "type": "quantitative"}, "y": {"field": "e", "type": "quantitative"}}},
   {"data": {"name": "ctext"}, "mark": {"type": "text", "fontSize": 11, "align": "left", "baseline": "middle", "color": "black"},
    "encoding": {"x": {"field": "p", "type": "quantitative"}, "y": {"field": "e", "type": "quantitative"}, "text": {"field": "t"}}}
  ]}
],
"spacing": 5
}
